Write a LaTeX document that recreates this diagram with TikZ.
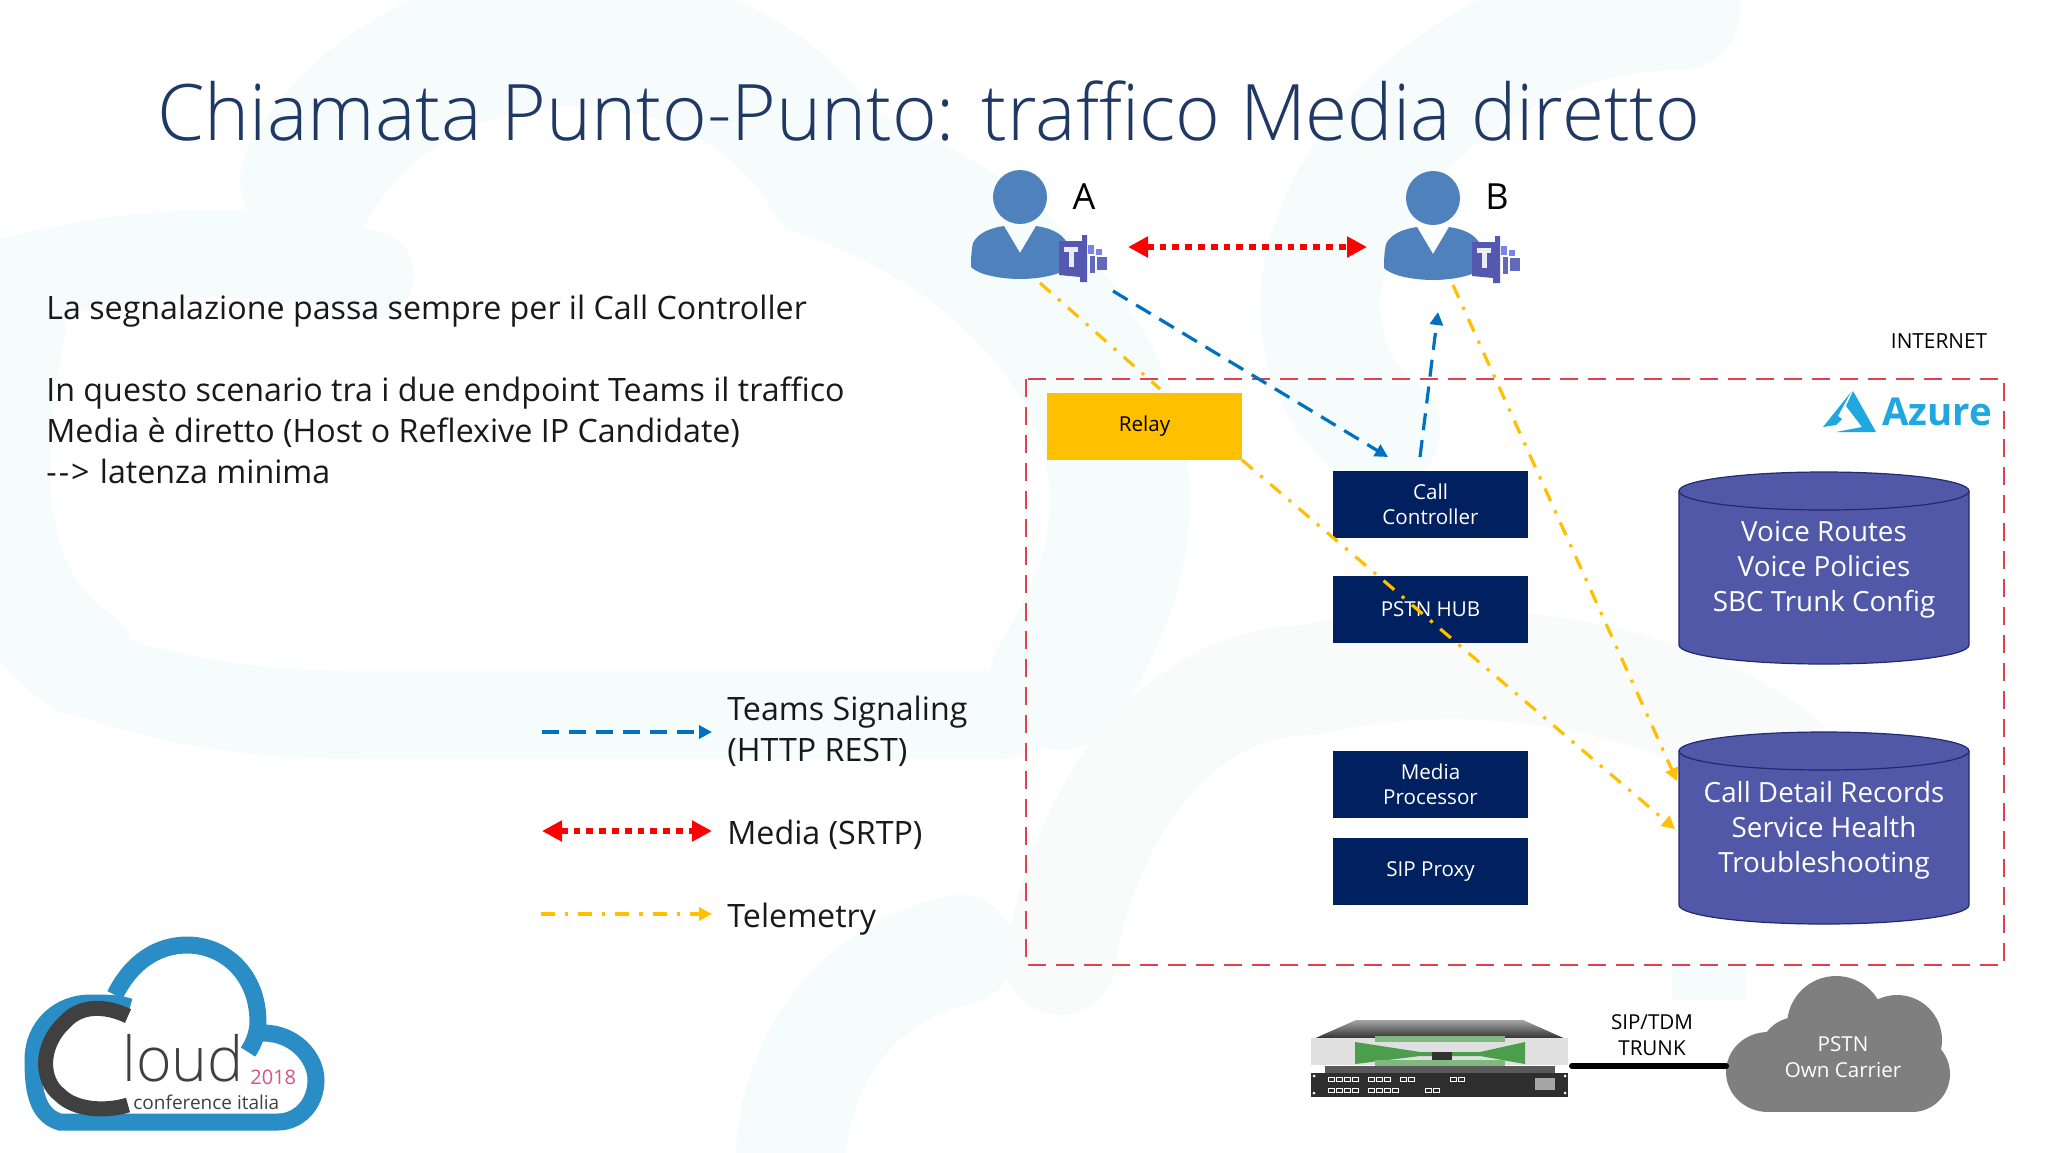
\documentclass[tikz,border=0pt]{standalone}
\usepackage{fontspec}
\setmainfont{Open Sans}
\newfontfamily\lightfont{Open Sans}[UprightFont={* Light},FakeStretch=0.98]
\usetikzlibrary{arrows.meta}
\definecolor{titleblue}{HTML}{1F3864}
\definecolor{navybox}{HTML}{002060}
\definecolor{cylfill}{HTML}{5258A8}
\definecolor{cylline}{HTML}{1F2A70}
\definecolor{userblue}{HTML}{4F81BD}
\definecolor{teamsdark}{HTML}{5558AF}
\definecolor{teamslight}{HTML}{7B83EB}
\definecolor{linkblue}{HTML}{0070C0}
\definecolor{amber}{HTML}{FFC000}
\definecolor{zone}{HTML}{E2404E}
\definecolor{azureblue}{HTML}{1FA8E0}
\definecolor{logoblue}{HTML}{2A8DC5}
\definecolor{logodark}{HTML}{404040}
\definecolor{logopink}{HTML}{D8527F}
\definecolor{pale}{HTML}{F6FBFC}
\definecolor{palegreen}{HTML}{F8FBFA}
\definecolor{cloudgray}{HTML}{7F7F7F}
\newcommand{\fs}[1]{\fontsize{#1}{#1}\selectfont}
\tikzset{
  x=0.5pt,y=-0.5pt,
  navy/.style={fill=navybox,text=white,minimum width=97.5pt,minimum height=33.5pt,inner sep=0pt,align=center,font=\fs{10.3}},
  bodytext/.style={anchor=base west,inner sep=0pt,text=black!90,font=\fs{16.1}},
  sigline/.style={linkblue,line width=1.6pt,dash pattern=on 8.5pt off 5pt,-{Triangle[length=6.5pt,width=6.5pt]}},
  medialine/.style={red,line width=3.4pt,dash pattern=on 3.4pt off 3pt,{Triangle[length=10pt,width=10pt]}-{Triangle[length=10pt,width=10pt]}},
  telline/.style={amber,line width=1.6pt,dash pattern=on 7pt off 5pt on 1.6pt off 5pt,-{Triangle[length=6.5pt,width=6.5pt]}},
  telplain/.style={amber,line width=1.6pt,dash pattern=on 7pt off 5pt on 1.6pt off 5pt},
  cyltext/.style={align=center,text=white,font=\fontsize{13.9}{17.5}\selectfont,inner sep=0pt},
  smalltext/.style={inner sep=0pt,align=center,font=\fs{10.3}},
  bgband/.style={pale,line width=44pt,line cap=round},
  cylbody/.style={fill=cylfill,draw=cylline,line width=0.6pt},
  userpic/.pic={
    \fill[userblue] (0,0) ellipse [x radius=27,y radius=27];
    \fill[userblue] (-16,29) -- (0,56) -- (16,29) .. controls (30,31) and (42,36) .. (47,46)
      .. controls (49,55) and (49,64) .. (49,70) .. controls (40,79) and (15,82) .. (0,82)
      .. controls (-15,82) and (-40,79) .. (-49,70) .. controls (-49,64) and (-49,55) .. (-47,46)
      .. controls (-42,36) and (-30,31) .. (-16,29) -- cycle;
    \fill[teamslight] (68,48) rectangle (74,57);
    \fill[teamslight] (76,52) rectangle (82,58);
    \fill[teamslight!80!black] (70,59) rectangle (75,76);
    \fill[teamslight!80!black] (77,60) rectangle (87,73);
    \fill[teamsdark] (39,44) -- (62,44) -- (62,38) -- (67,38) -- (67,85) -- (60,85) -- (60,80) -- (39,78) -- cycle;
    \fill[white!88!teamsdark] (44,50) rectangle (58,55);
    \fill[white!88!teamsdark] (48.5,50) rectangle (53.5,70);
  }
}
\begin{document}
\begin{tikzpicture}
\useasboundingbox (0,0) rectangle (2048,1152);
\begin{scope}
\clip (0,0) rectangle (2048,1152);
\fill[white] (0,0) rectangle (2048,1152);
% pale watermark
\draw[bgband] (-20,290) .. controls (120,250) and (260,240) .. (370,275);
\draw[bgband,line width=55pt] (10,330) .. controls (-20,480) and (-10,600) .. (80,660);
\draw[bgband] (80,670) .. controls (180,705) and (260,715) .. (370,715) -- (1000,715);
\draw[bgband,line width=70pt] (310,180) .. controls (420,-10) and (720,-10) .. (830,170)
   .. controls (1000,230) and (1120,360) .. (1120,500) .. controls (1120,570) and (1090,630) .. (1060,680);
\draw[bgband,line width=60pt] (1680,10) .. controls (1500,10) and (1330,150) .. (1320,300) .. controls (1320,360) and (1340,400) .. (1380,430);
\draw[bgband,palegreen,line width=55pt] (1060,960) .. controls (1090,790) and (1190,680) .. (1310,680) .. controls (1480,640) and (1680,680) .. (1780,760);
\draw[bgband,line width=55pt] (790,1170) .. controls (790,1060) and (860,970) .. (960,950);
\fill[pale] (1672,960) rectangle (1745,1000);
\end{scope}
% title
\node[anchor=base west,inner sep=0pt,text=titleblue,font=\lightfont\fs{39}] (title) at (157,140) {Chiamata Punto-Punto: traffico Media diretto};
% left text
\node[bodytext] (t1) at (46,319) {La segnalazione passa sempre per il Call Controller};
\node[bodytext] (t2) at (46,401) {In questo scenario tra i due endpoint Teams il traffico};
\node[bodytext] (t3) at (46,442) {Media è diretto (Host o Reflexive IP Candidate)};
\node[bodytext] (t4) at (46,483) {-\kern1pt-\kern1pt>\kern1pt\ latenza minima};
% legend
\coordinate (lg1a) at (542,732); \coordinate (lg1b) at (712,732);
\coordinate (lg2a) at (542,831); \coordinate (lg2b) at (712,831);
\coordinate (lg3a) at (541,914); \coordinate (lg3b) at (712,914);
\draw[sigline] (lg1a) -- (lg1b);
\draw[medialine] (lg2a) -- (lg2b);
\draw[telline] (lg3a) -- (lg3b);
\node[bodytext] (lg1) at (727,720) {Teams Signaling};
\node[bodytext] (lg1x) at (727,761) {(HTTP REST)};
\node[bodytext] (lg2) at (727,844) {Media (SRTP)};
\node[bodytext] (lg3) at (727,927) {Telemetry};
% zone
\draw[zone,line width=1pt,dash pattern=on 9pt off 5pt] (1026,379) rectangle (2004,965);
\node[inner sep=0pt,text=black,font=\fs{10.4}] (internet) at (1939,341) {INTERNET};
% Azure
\fill[azureblue] (1823,427) -- (1851,392) -- (1838,416) -- (1842,419) -- (1836,425) -- cycle;
\fill[azureblue] (1853,391) -- (1876,432) -- (1836,432) -- (1862,427) -- (1846,406) -- cycle;
\node[anchor=base west,inner sep=0pt,text=azureblue,font=\bfseries\fs{19.2}] (azure) at (1882,425) {Azure};
% users
\pic at (1020,197) {userpic};
\pic at (1433,198) {userpic};
\node[inner sep=0pt,text=black,font=\fs{18}] (lblA) at (1084,197) {A};
\node[inner sep=0pt,text=black,font=\fs{18}] (lblB) at (1497,197) {B};
% boxes
\node[fill=amber,text=black,minimum width=97.5pt,minimum height=33.5pt,inner sep=0pt,font=\fs{10.3}] (relay) at (1144.5,426.5) {\raisebox{-0.5pt}{Relay}};
\node[navy] (cc) at (1430.5,504) {Call\\[2pt]Controller};
\node[navy] (hub) at (1430.5,609.5) {PSTN HUB};
\node[navy] (mp) at (1430.5,784) {Media\\[2pt]Processor};
\node[navy] (sip) at (1430.5,871.5) {SIP Proxy};
% cylinders
\filldraw[cylbody] (1679,491) arc [start angle=180,end angle=360,x radius=145,y radius=19] -- (1969,645) arc [start angle=0,end angle=180,x radius=145,y radius=19] -- cycle;
\draw[cylline,line width=0.6pt] (1679,491) arc [start angle=180,end angle=0,x radius=145,y radius=19];
\node[cyltext] (cyl1) at (1824,570) {Voice Routes\\Voice Policies\\SBC Trunk Config};
\filldraw[cylbody] (1679,751) arc [start angle=180,end angle=360,x radius=145,y radius=19] -- (1969,905) arc [start angle=0,end angle=180,x radius=145,y radius=19] -- cycle;
\draw[cylline,line width=0.6pt] (1679,751) arc [start angle=180,end angle=0,x radius=145,y radius=19];
\node[cyltext] (cyl2) at (1824,830) {Call Detail Records\\Service Health\\Troubleshooting};
% connectors
\coordinate (a1) at (1128,247); \coordinate (a2) at (1367,247);
\coordinate (s1) at (1113,291); \coordinate (s2) at (1388,457);
\coordinate (s3) at (1420,457); \coordinate (s4) at (1438,312);
\coordinate (y1) at (1040,283); \coordinate (y2) at (1160,389);
\coordinate (y3) at (1242,460); \coordinate (y4) at (1675,829);
\coordinate (y5) at (1453,285); \coordinate (y6) at (1677,781);
\draw[medialine] (a1) -- (a2);
\draw[sigline] (s1) -- (s2);
\draw[sigline] (s3) -- (s4);
\draw[telplain] (y1) -- (y2);
\draw[telline] (y3) -- (y4);
\draw[telline] (y5) -- (y6);
% bottom device
\shade[top color=black!35,bottom color=black!85] (1356,1020) -- (1523,1020) -- (1568,1040) -- (1311,1040) -- cycle;
\fill[black!12] (1311,1038) rectangle (1568,1065);
\fill[green!45!black!70] (1355,1042) -- (1420,1052) -- (1480,1052) -- (1525,1042) -- (1525,1064) -- (1480,1056) -- (1420,1056) -- (1355,1064) -- cycle;
\fill[green!45!black!50] (1375,1036) rectangle (1505,1042);
\fill[green!45!black!50] (1375,1060) rectangle (1505,1066);
\fill[black!80] (1432,1052) rectangle (1452,1060);
\fill[black!65] (1325,1066) rectangle (1555,1073);
\fill[black!82] (1311,1073) rectangle (1568,1097);
\foreach \x in {1328,1336,1344,1352,1368,1376,1384,1400,1408,1450,1458}{
  \draw[white,line width=0.5pt] (\x,1077) rectangle ++(6,4);
}
\foreach \x in {1328,1336,1344,1352,1368,1376,1384,1392,1425,1433}{
  \draw[white,line width=0.5pt] (\x,1088) rectangle ++(6,4);
}
\fill[white] (1314,1076) circle (1.5) (1314,1093) circle (1.5) (1565,1076) circle (1.5) (1565,1093) circle (1.5);
\fill[black!35] (1535,1078) rectangle (1555,1090);
% PSTN cloud
\fill[cloudgray] (1768,1072) ellipse [x radius=42,y radius=40] (1797,1055) circle (38) (1836,1025) circle (49) (1897,1040) circle (45) (1912,1074) circle (38);
\fill[cloudgray] (1768,1050) rectangle (1912,1112);
\node[smalltext,text=white] (pstn) at (1843,1057) {PSTN\\[3pt]Own Carrier};
\node[smalltext,text=black] (trunk) at (1652,1035) {SIP/TDM\\[3pt]TRUNK};
\coordinate (dev) at (1572,1066); \coordinate (cl) at (1726,1066);
\draw[black,line width=3pt,line cap=round] (dev) -- (cl);
% logo
\draw[logoblue,line width=8.5pt,line cap=butt] (115,995) .. controls (135,955) and (165,945) .. (187,945)
  .. controls (225,945) and (258,975) .. (258,1022) .. controls (258,1030) and (255,1042) .. (248,1052);
\draw[logoblue,line width=8.5pt,line cap=butt] (263,1033) .. controls (295,1033) and (316,1058) .. (316,1080)
  .. controls (316,1105) and (298,1122) .. (278,1122) -- (60,1122) .. controls (35,1115) and (33,1085) .. (33,1060)
  .. controls (33,1025) and (60,1003) .. (90,1003) .. controls (105,1003) and (118,1003) .. (130,1007);
\fill[white] (130,1092) rectangle (282,1112);
\draw[logodark,line width=7.5pt] (128,1016) .. controls (105,1005) and (80,1005) .. (65,1022) .. controls (40,1045) and (40,1080) .. (60,1095) .. controls (75,1110) and (105,1112) .. (128,1105);
\node[anchor=base west,inner sep=0pt,text=logodark,font=\lightfont\fs{31}] (loud) at (122,1081) {loud};
\node[anchor=base west,inner sep=0pt,text=logopink,font=\fs{10}] (yr) at (250,1084) {2018};
\node[anchor=base west,inner sep=0pt,text=logodark,font=\fs{9.5}] (conf) at (133,1109) {conference italia};
\end{tikzpicture}
\end{document}
